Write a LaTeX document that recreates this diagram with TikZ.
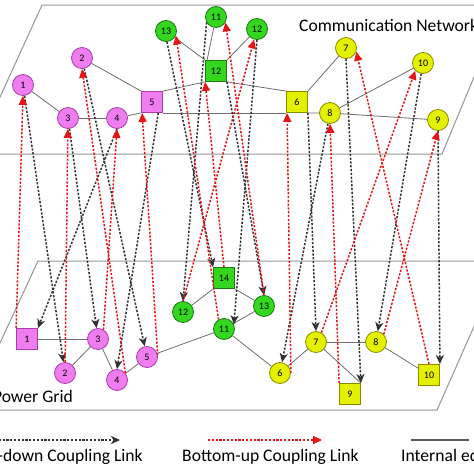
\documentclass[tikz,border=0pt]{standalone}
\usepackage{fontspec}
\setmainfont{Carlito}
\usetikzlibrary{arrows.meta}
\definecolor{mag}{RGB}{240,125,240}
\definecolor{magd}{RGB}{170,60,170}
\definecolor{grn}{RGB}{50,215,30}
\definecolor{grnd}{RGB}{30,120,20}
\definecolor{yel}{RGB}{228,240,0}
\definecolor{yeld}{RGB}{140,140,0}
\definecolor{dk}{RGB}{50,50,50}
\definecolor{rd}{RGB}{230,20,20}
\definecolor{pl}{RGB}{150,150,150}
\definecolor{ie}{RGB}{110,110,110}
\begin{document}
\begin{tikzpicture}[x=1pt,y=-1pt,
  cnode/.style={circle, draw, line width=0.8pt, minimum size=21pt, inner sep=0pt, font=\fontsize{10}{12}\selectfont},
  snode/.style={rectangle, draw, line width=0.8pt, minimum size=21pt, inner sep=0pt, font=\fontsize{10}{12}\selectfont},
  pk/.style={fill=mag, draw=magd},
  gr/.style={fill=grn, draw=grnd},
  yl/.style={fill=yel, draw=yeld},
  plane/.style={draw=pl, line width=1pt},
  iedge/.style={draw=ie, line width=0.8pt},
  tdlink/.style={draw=dk, line width=1.5pt, dash pattern=on 2.2pt off 1.6pt, -{Stealth[length=9pt,width=8pt,inset=2.5pt]}},
  bulink/.style={draw=rd, line width=1.5pt, dash pattern=on 2.2pt off 1.6pt, -{Triangle[length=9pt,width=8pt]}},
  lfont/.style={inner sep=0pt, font=\fontsize{17.6}{21}\selectfont},
]
\useasboundingbox (0,0) rectangle (474,474);
\clip (0,0) rectangle (474,474);
\fill[white] (0,0) rectangle (474,474);
% planes
\draw[plane] (42,5) -- (504,5) -- (442,154) -- (-26,154) -- cycle;
\draw[plane] (38,261) -- (503,261) -- (437,410) -- (-31,410) -- cycle;
\node[lfont, anchor=base west] (CN) at (299,31) {Communication Network};
\node[lfont, anchor=base east] (PG) at (73,402) {Power Grid};
% top nodes
\node[cnode,pk] (T1) at (23,85) {1};
\node[cnode,pk] (T2) at (82,58) {2};
\node[cnode,pk] (T3) at (68,118) {3};
\node[cnode,pk] (T4) at (117,118) {4};
\node[snode,pk] (T5) at (152,102) {5};
\node[cnode,gr] (T13) at (166,31) {13};
\node[cnode,gr] (T11) at (216,17) {11};
\node[snode,gr] (T12s) at (216,71) {12};
\node[cnode,gr] (T12c) at (257,29) {12};
\node[snode,yl] (T6) at (297,102) {6};
\node[cnode,yl] (T7) at (346,48) {7};
\node[cnode,yl] (T10) at (423,63) {10};
\node[cnode,yl] (T8) at (330,113) {8};
\node[cnode,yl] (T9) at (438,120) {9};
% bottom nodes
\node[snode,pk] (B1) at (27,339) {1};
\node[cnode,pk] (B2) at (65,373) {2};
\node[cnode,pk] (B3) at (98,339) {3};
\node[cnode,pk] (B4) at (117,380) {4};
\node[cnode,pk] (B5) at (147,357) {5};
\node[snode,gr] (B14) at (224,278) {14};
\node[cnode,gr] (B12) at (183,312) {12};
\node[cnode,gr] (B13) at (264,306) {13};
\node[cnode,gr] (B11) at (224,329) {11};
\node[cnode,yl] (B6) at (280,373) {6};
\node[cnode,yl] (B7) at (316,342) {7};
\node[cnode,yl] (B8) at (376,342) {8};
\node[snode,yl] (B9) at (350,394) {9};
\node[snode,yl] (B10) at (429,375) {10};
% internal edges top
\draw[iedge] (T1) -- (T3);
\draw[iedge] (T3) -- (T4);
\draw[iedge] (T2) -- (T5.north west);
\draw[iedge] (T4) -- (T5.south west);
\draw[iedge] (T5.south east) -- (T6.south west);
\draw[iedge] (T6.south east) -- (T8);
\draw[iedge] (T5.north east) -- (T12s.south west);
\draw[iedge] (T12s.south east) -- (T6.north west);
\draw[iedge] (T13) -- (T12s.north west);
\draw[iedge] (T11) -- ([xshift=2pt]T12s.north west);
\draw[iedge] (T12s.north east) -- (T12c);
\draw[iedge] (T6.north east) -- (T7);
\draw[iedge] (T8) -- (T10);
\draw[iedge] (T8) -- (T9);
% internal edges bottom
\draw[iedge] (B1) -- (B3);
\draw[iedge] (B3) -- (B2);
\draw[iedge] (B3) -- (B4);
\draw[iedge] (B4) -- (B5);
\draw[iedge] (B5) -- (B11);
\draw[iedge] (B12) -- (B14.south west);
\draw[iedge] (B14.south east) -- (B13);
\draw[iedge] (B13) -- (B11);
\draw[iedge] (B11) -- (B6);
\draw[iedge] (B6) -- (B7);
\draw[iedge] (B7) -- (B8);
\draw[iedge] (B7) -- (B9.north east);
\draw[iedge] (B8) -- (B10);
% top-down coupling links
\draw[tdlink] (T1) -- (B2);
\draw[tdlink] (T2) -- (B5);
\draw[tdlink] (T3) -- (B3);
\draw[tdlink] (T4.south) -- (B1.north east);
\draw[tdlink] (T5.-60) -- (B4.north);
\draw[tdlink] (T11.210) -- (B12.north);
\draw[tdlink] (T12s.south east) -- (B13.north);
\draw[tdlink] (T13.-85) -- (B14.north west);
\draw[tdlink] (T12c.south) -- (B11.25);
\draw[tdlink] (T6.south east) -- (B7.north);
\draw[tdlink] (T7.south) -- (B9.north east);
\draw[tdlink] (T8) -- (B6);
\draw[tdlink] (T9.south) -- (B10.north east);
\draw[tdlink] (T10) -- (B8);
% bottom-up coupling links
\draw[bulink] (B1.north west) -- (T1.south);
\draw[bulink] (B2) -- (T3);
\draw[bulink] (B3.60) -- (T4.south);
\draw[bulink] (B4.40) -- (T2.south);
\draw[bulink] (B5.10) -- ([xshift=1pt]T5.south west);
\draw[bulink] (B14.north) -- (T12s.south west);
\draw[bulink] (B12.north) -- (T12c);
\draw[bulink] (B13.north) -- (T11.-30);
\draw[bulink] (B11.120) -- (T13.-25);
\draw[bulink] (B6.east) -- ([xshift=1pt]T6.south west);
\draw[bulink] (B7.60) -- (T10.225);
\draw[bulink] (B8.45) -- (T9.south);
\draw[bulink] (B9.north west) -- (T8.south);
\draw[bulink] (B10.north) -- (T7.-20);
% legend
\coordinate (L1a) at (-5,440);
\coordinate (L1b) at (120,440);
\draw[tdlink] (L1a) -- (L1b);
\node[lfont, anchor=base east] (LT1) at (143,461) {Top-down Coupling Link};
\coordinate (L2a) at (208,440);
\coordinate (L2b) at (322,440);
\draw[bulink] (L2a) -- (L2b);
\node[lfont, anchor=base west] (LT2) at (182,461) {Bottom-up Coupling Link};
\coordinate (L3a) at (411,440);
\coordinate (L3b) at (469,440);
\draw[draw=dk!80, line width=1.4pt] (L3a) -- (L3b);
\node[lfont, anchor=base west] (LT3) at (401,461) {Internal edge};
\end{tikzpicture}
\end{document}
